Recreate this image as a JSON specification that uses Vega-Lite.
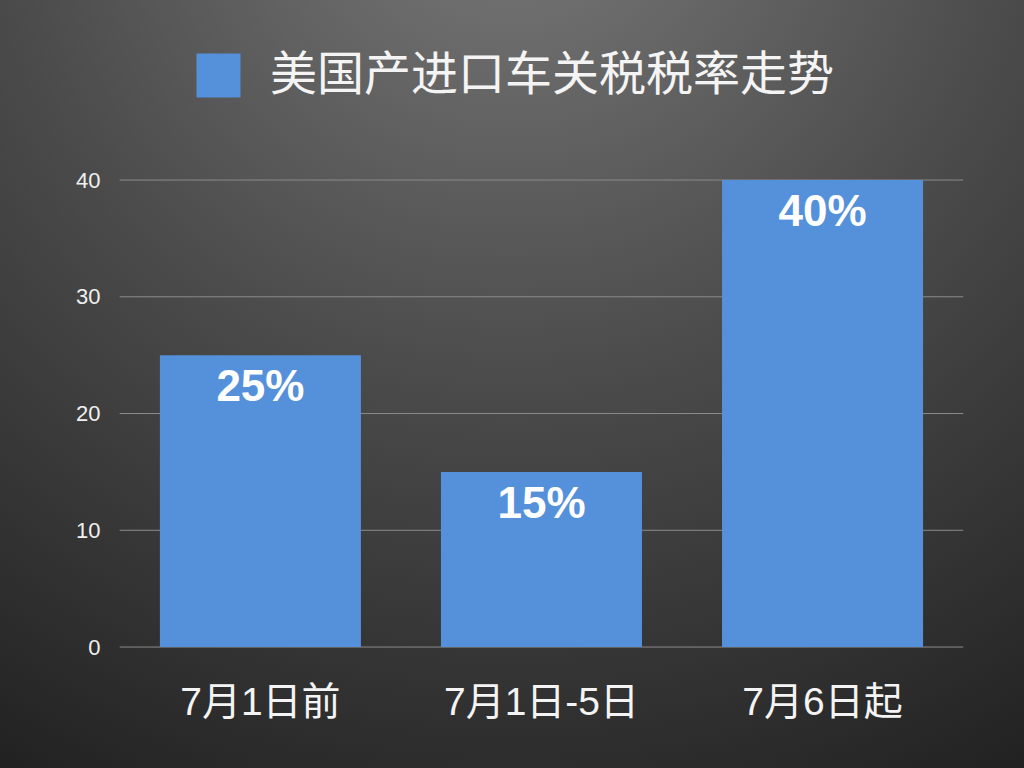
{
  "$schema": "https://vega.github.io/schema/vega-lite/v6.json",
  "width": 1024,
  "height": 768,
  "padding": 0,
  "autosize": {"type": "fit", "contains": "padding"},
  "background": "#2a2a2a",
  "data": {
    "values": [
      {"period": "7月1日前", "rate": 25, "label": "25%", "series": "美国产进口车关税税率走势"},
      {"period": "7月1日-5日", "rate": 15, "label": "15%", "series": "美国产进口车关税税率走势"},
      {"period": "7月6日起", "rate": 40, "label": "40%", "series": "美国产进口车关税税率走势"}
    ]
  },
  "layer": [
    {
      "data": {"values": [{"tick": 0}, {"tick": 10}, {"tick": 20}, {"tick": 30}, {"tick": 40}]},
      "mark": {"type": "rule", "color": "#8c8c8c", "strokeWidth": 1},
      "encoding": {
        "y": {"field": "tick", "type": "quantitative"},
        "x": {"datum": "7月1日前", "type": "nominal", "bandPosition": -0.2},
        "x2": {"datum": "7月6日起", "bandPosition": 1.2}
      }
    },
    {
      "mark": {"type": "bar", "color": "#5590da"},
      "encoding": {
        "x": {
          "field": "period",
          "type": "nominal",
          "sort": null,
          "scale": {
            "domain": ["7月1日前", "7月1日-5日", "7月6日起"],
            "paddingInner": 0.2847,
            "paddingOuter": 0.464,
            "align": 0.613
          },
          "axis": {
            "title": null,
            "orient": "bottom",
            "offset": -85,
            "labelAngle": 0,
            "labelAlign": "center",
            "labelFontSize": 39,
            "labelColor": "#f4f4f4",
            "labelFont": "Liberation Sans, Noto Sans CJK SC",
            "labelBaseline": "top",
            "labelPadding": 0,
            "labelLimit": 0,
            "ticks": false,
            "domain": false,
            "grid": false
          }
        },
        "y": {
          "field": "rate",
          "type": "quantitative",
          "scale": {"domain": [-10.36, 55.42], "nice": false, "zero": false},
          "axis": {
            "title": null,
            "orient": "left",
            "offset": -104,
            "values": [0, 10, 20, 30, 40],
            "labelFontSize": 22,
            "labelColor": "#f0f0f0",
            "labelFont": "Liberation Sans",
            "labelPadding": 4,
            "ticks": false,
            "domain": false,
            "grid": false
          }
        },
        "y2": {"datum": 0},
        "color": {
          "field": "series",
          "type": "nominal",
          "scale": {"range": ["#5590da"]},
          "legend": {
            "title": null,
            "orient": "none",
            "legendX": 195,
            "legendY": 52,
            "padding": 0,
            "symbolType": "square",
            "symbolSize": 1936,
            "symbolStrokeWidth": 0,
            "symbolOpacity": 1,
            "labelFontSize": 47,
            "labelFont": "Liberation Sans, Noto Sans CJK SC",
            "labelColor": "#f4f4f4",
            "labelOffset": 28,
            "labelLimit": 800
          }
        }
      }
    },
    {
      "mark": {
        "type": "text",
        "color": "#ffffff",
        "fontSize": 44,
        "fontWeight": "bold",
        "font": "Liberation Sans",
        "baseline": "middle",
        "dy": 33
      },
      "encoding": {
        "x": {"field": "period", "type": "nominal", "sort": null},
        "y": {"field": "rate", "type": "quantitative"},
        "text": {"field": "label"}
      }
    }
  ],
  "config": {
    "view": {
      "stroke": null,
      "fill": {
        "gradient": "radial",
        "x1": 0.5, "y1": 0, "r1": 0,
        "x2": 0.5, "y2": 0, "r2": 1,
        "stops": [
          {"offset": 0, "color": "#7a7a7a"},
          {"offset": 0.5, "color": "#4b4b4b"},
          {"offset": 1, "color": "#222222"}
        ]
      }
    }
  }
}
